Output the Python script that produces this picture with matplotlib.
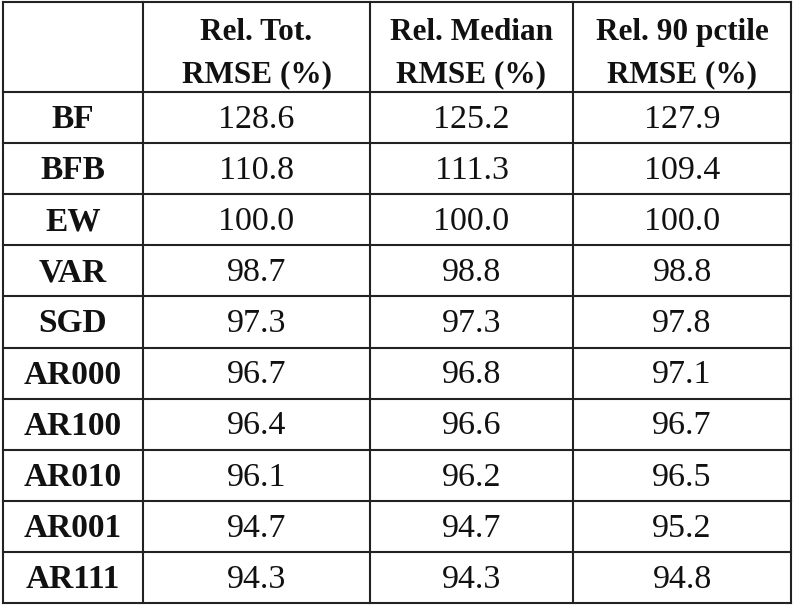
import matplotlib
matplotlib.use("Agg")
import matplotlib.pyplot as plt
import numpy as np

methods = ["BF", "BFB", "EW", "VAR", "SGD", "AR000", "AR100", "AR010", "AR001", "AR111"]
headers = ["Rel. Tot.\nRMSE (%)", "Rel. Median\nRMSE (%)", "Rel. 90 pctile\nRMSE (%)"]
tot_rmse = [128.6, 110.8, 100.0, 98.7, 97.3, 96.7, 96.4, 96.1, 94.7, 94.3]
median_rmse = [125.2, 111.3, 100.0, 98.8, 97.3, 96.8, 96.6, 96.2, 94.7, 94.3]
p90_rmse = [127.9, 109.4, 100.0, 98.8, 97.8, 97.1, 96.7, 96.5, 95.2, 94.8]

W, H = 794, 606
col_edges = [3, 143, 370, 573, 791]
header_top, header_bot, table_bot = 1.5, 92, 603
row_edges = np.linspace(header_bot, table_bot, len(methods) + 1)

plt.rcParams["font.family"] = ["Liberation Serif", "DejaVu Serif"]
fig = plt.figure(figsize=(W / 100, H / 100), dpi=100)
ax = fig.add_axes([0, 0, 1, 1])
ax.set_xlim(0, W)
ax.set_ylim(H, 0)
ax.axis("off")

line_kw = dict(color="#222222", lw=1.5, solid_capstyle="projecting")
for x in col_edges:
    ax.plot([x, x], [header_top, table_bot], **line_kw)
for y in [header_top] + list(row_edges):
    ax.plot([col_edges[0], col_edges[-1]], [y, y], **line_kw)

centers_x = [(a + b) / 2 for a, b in zip(col_edges[:-1], col_edges[1:])]
for cx, h in zip(centers_x[1:], headers):
    ax.text(cx, (header_top + header_bot) / 2 + 7, h, ha="center", va="center",
            fontsize=22.5, fontweight="bold", linespacing=1.6, color="#111111")

columns = [tot_rmse, median_rmse, p90_rmse]
for i, m in enumerate(methods):
    cy = (row_edges[i] + row_edges[i + 1]) / 2 + 2
    ax.text(centers_x[0], cy, m, ha="center", va="center",
            fontsize=24, fontweight="bold", color="#111111")
    for cx, vals in zip(centers_x[1:], columns):
        ax.text(cx, cy, f"{vals[i]:.1f}", ha="center", va="center",
                fontsize=24.5, color="#111111")

fig.savefig("out.png", dpi=100)
